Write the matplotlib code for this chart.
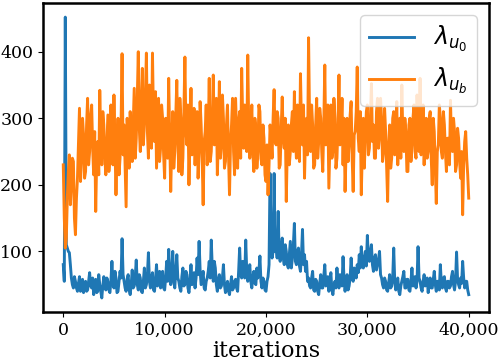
import numpy as np
import matplotlib
matplotlib.use('Agg')
import matplotlib.pyplot as plt
from matplotlib.ticker import StrMethodFormatter

# iterations logged every 100 steps
step = 100

# lambda_u0 (blue)
lam_u0 = [80, 55, 452, 110, 105, 100, 98, 80, 60, 50, 45, 62, 55, 45, 40, 52, 62, 40, 48, 58,
          38, 50, 55, 40, 42, 55, 68, 48, 45, 60, 35, 50, 58, 38, 40, 65, 50, 40, 30, 48,
          62, 45, 42, 60, 55, 42, 38, 55, 85, 50, 45, 70, 60, 38, 40, 55, 70, 60, 119, 65,
          55, 45, 40, 58, 65, 42, 35, 50, 72, 45, 48, 62, 87, 50, 42, 65, 60, 40, 38, 55,
          75, 45, 50, 65, 98, 55, 45, 60, 68, 42, 40, 58, 80, 48, 55, 70, 45, 52, 70, 45,
          42, 60, 85, 55, 103, 70, 50, 65, 100, 55, 45, 70, 95, 60, 55, 45, 40, 62, 75, 48,
          50, 70, 65, 45, 38, 55, 80, 50, 55, 68, 45, 60, 90, 65, 115, 72, 50, 60, 70, 45,
          42, 55, 60, 70, 85, 60, 117, 75, 55, 85, 75, 50, 40, 58, 65, 45, 48, 60, 80, 50,
          38, 48, 55, 40, 35, 50, 62, 42, 45, 55, 58, 45, 40, 70, 105, 65, 60, 85, 75, 60,
          117, 70, 55, 65, 80, 55, 45, 62, 70, 52, 50, 75, 60, 70, 93, 55, 45, 60, 55, 42,
          40, 55, 62, 80, 217, 120, 90, 100, 217, 100, 110, 90, 160, 95, 85, 105, 120, 90, 80, 110,
          100, 80, 75, 95, 115, 75, 90, 110, 142, 85, 80, 100, 105, 78, 70, 95, 133, 80, 95, 70,
          85, 55, 60, 48, 45, 60, 70, 42, 40, 58, 55, 40, 35, 52, 65, 45, 45, 62, 80, 48,
          50, 62, 40, 55, 68, 42, 35, 50, 55, 45, 75, 52, 45, 65, 60, 48, 92, 58, 40, 55,
          65, 42, 48, 60, 90, 62, 55, 75, 70, 60, 80, 68, 95, 75, 107, 80, 75, 90, 100, 78,
          124, 90, 85, 100, 110, 80, 70, 90, 95, 72, 80, 88, 100, 65, 60, 50, 45, 60, 55, 42,
          40, 52, 65, 45, 48, 60, 105, 55, 42, 50, 60, 40, 35, 48, 55, 62, 70, 45, 45, 58,
          58, 42, 40, 55, 75, 48, 50, 62, 45, 55, 107, 60, 55, 45, 40, 55, 65, 48, 50, 60,
          38, 52, 60, 45, 45, 58, 70, 50, 40, 55, 55, 42, 80, 52, 45, 60, 62, 45, 40, 55,
          55, 45, 48, 62, 70, 50, 42, 55, 99, 58, 50, 45, 60, 52, 85, 60, 45, 55, 55, 42,
          35]

# lambda_ub (orange)
lam_ub = [230, 150, 105, 120, 180, 220, 245, 170, 200, 240, 235, 150, 125, 180, 210, 260, 315, 205, 240, 300,
          275, 210, 220, 290, 330, 230, 250, 305, 320, 255, 215, 280, 160, 240, 265, 215, 342, 270, 230, 310,
          290, 240, 215, 260, 305, 220, 245, 320, 280, 230, 335, 260, 185, 250, 300, 215, 240, 290, 397, 245,
          290, 230, 167, 300, 260, 225, 310, 265, 235, 290, 345, 240, 270, 330, 400, 285, 250, 320, 375, 260,
          290, 335, 398, 280, 240, 350, 320, 255, 398, 300, 265, 340, 225, 280, 330, 235, 255, 320, 300, 245,
          210, 300, 285, 240, 360, 270, 190, 260, 310, 225, 250, 305, 357, 265, 220, 330, 300, 215, 240, 310,
          392, 280, 260, 320, 200, 275, 345, 245, 270, 315, 230, 280, 310, 210, 250, 325, 290, 240, 170, 265,
          280, 320, 230, 275, 360, 235, 250, 300, 365, 260, 280, 330, 215, 270, 355, 240, 260, 335, 300, 225,
          235, 290, 320, 245, 185, 265, 290, 330, 250, 215, 330, 280, 225, 295, 310, 240, 375, 300, 255, 320,
          300, 250, 395, 285, 240, 275, 320, 250, 220, 300, 285, 225, 250, 320, 310, 240, 230, 290, 270, 215,
          205, 260, 185, 230, 290, 270, 240, 300, 343, 265, 260, 310, 300, 225, 230, 285, 332, 270, 255, 300,
          175, 255, 290, 230, 250, 290, 310, 250, 340, 270, 240, 320, 280, 235, 367, 290, 260, 320, 210, 275,
          300, 245, 421, 295, 250, 320, 290, 225, 230, 290, 330, 240, 265, 315, 300, 250, 220, 290, 380, 260,
          270, 320, 195, 260, 320, 240, 250, 330, 300, 225, 240, 290, 365, 260, 280, 330, 230, 300, 190, 250,
          300, 235, 260, 305, 325, 240, 190, 275, 280, 310, 377, 270, 250, 310, 185, 250, 300, 225, 270, 310,
          320, 245, 255, 300, 352, 265, 290, 240, 240, 310, 330, 255, 275, 330, 300, 235, 250, 315, 280, 230,
          175, 260, 290, 225, 240, 300, 310, 245, 260, 325, 230, 285, 300, 240, 350, 270, 250, 300, 280, 220,
          220, 290, 300, 235, 260, 300, 320, 250, 240, 335, 290, 250, 360, 245, 270, 320, 230, 285, 300, 240,
          250, 300, 310, 240, 200, 300, 280, 225, 172, 250, 260, 320, 300, 250, 240, 310, 290, 250, 220, 270,
          270, 230, 327, 260, 250, 300, 280, 220, 230, 285, 270, 235, 210, 250, 155, 230, 265, 280, 240, 215,
          180]

iters = np.arange(len(lam_u0)) * step

fig = plt.figure(figsize=(5, 3.63), dpi=100)
ax = fig.add_axes([0.086, 0.1405, 0.892, 0.851])

ax.plot(iters, lam_u0, color='tab:blue', lw=2.1, label=r'$\lambda_{u_0}$')
ax.plot(iters, lam_ub, color='tab:orange', lw=2.1, label=r'$\lambda_{u_b}$')

ax.set_xticks([0, 10000, 20000, 30000, 40000])
ax.set_yticks([100, 200, 300, 400])
ax.xaxis.set_major_formatter(StrMethodFormatter('{x:,.0f}'))
for lab in ax.get_xticklabels() + ax.get_yticklabels():
    lab.set_family('DejaVu Serif')
    lab.set_fontsize(12.5)
ax.set_xlabel('iterations', family='DejaVu Serif', fontsize=16, labelpad=1)

for sp in ax.spines.values():
    sp.set_linewidth(1.8)

ax.legend(loc='upper right', fontsize=17, bbox_to_anchor=(0.973, 0.962),
          borderaxespad=0, handlelength=1.9)

fig.savefig('out.png', dpi=100)
